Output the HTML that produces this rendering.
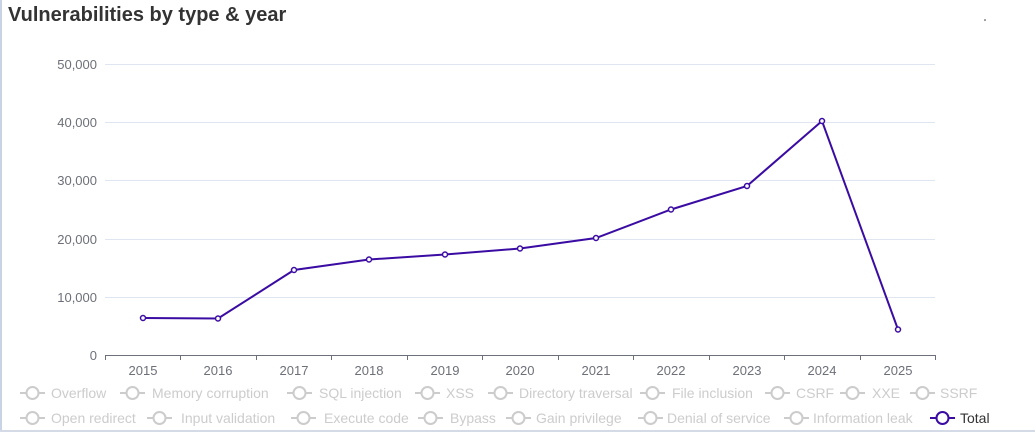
<!DOCTYPE html>
<html><head><meta charset="utf-8"><style>
body{margin:0;background:#fff;}
svg{display:block;font-family:"Liberation Sans",sans-serif;}
</style></head><body>
<svg width="1035" height="432" viewBox="0 0 1035 432">
<rect x="0" y="0" width="1035" height="432" fill="#fff"/>
<line x1="1" y1="0" x2="1" y2="432" stroke="#c9d3e6" stroke-width="2"/>
<line x1="0" y1="431" x2="1035" y2="431" stroke="#d5dbe6" stroke-width="2"/>
<text x="8" y="21" font-size="20" font-weight="bold" fill="#333">Vulnerabilities by type &amp; year</text>
<circle cx="985" cy="20" r="0.8" fill="#333"/>
<g stroke="#e0e6f1" stroke-width="1">
<line x1="105" y1="64.5" x2="935" y2="64.5"/>
<line x1="105" y1="122.5" x2="935" y2="122.5"/>
<line x1="105" y1="180.5" x2="935" y2="180.5"/>
<line x1="105" y1="239.5" x2="935" y2="239.5"/>
<line x1="105" y1="297.5" x2="935" y2="297.5"/>
</g>
<g font-size="13" fill="#6e7079" text-anchor="end">
<text x="97" y="69">50,000</text><text x="97" y="127">40,000</text><text x="97" y="185">30,000</text>
<text x="97" y="244">20,000</text><text x="97" y="302">10,000</text><text x="97" y="360">0</text>
</g>
<line x1="105" y1="355.5" x2="935" y2="355.5" stroke="#6e7079"/>
<g stroke="#6e7079">
<line x1="105.5" y1="355" x2="105.5" y2="360"/><line x1="180.5" y1="355" x2="180.5" y2="360"/>
<line x1="256.5" y1="355" x2="256.5" y2="360"/><line x1="331.5" y1="355" x2="331.5" y2="360"/>
<line x1="407.5" y1="355" x2="407.5" y2="360"/><line x1="482.5" y1="355" x2="482.5" y2="360"/>
<line x1="558.5" y1="355" x2="558.5" y2="360"/><line x1="633.5" y1="355" x2="633.5" y2="360"/>
<line x1="709.5" y1="355" x2="709.5" y2="360"/><line x1="784.5" y1="355" x2="784.5" y2="360"/>
<line x1="860.5" y1="355" x2="860.5" y2="360"/><line x1="935.5" y1="355" x2="935.5" y2="360"/>
</g>
<g font-size="13" fill="#6e7079" text-anchor="middle">
<text x="143" y="375">2015</text><text x="218" y="375">2016</text><text x="294" y="375">2017</text>
<text x="369" y="375">2018</text><text x="445" y="375">2019</text><text x="520" y="375">2020</text>
<text x="596" y="375">2021</text><text x="671" y="375">2022</text><text x="747" y="375">2023</text>
<text x="822" y="375">2024</text><text x="898" y="375">2025</text>
</g>
<polyline fill="none" stroke="#3a0ca3" stroke-width="2" points="143,318 218,318.5 294,270 369,259.5 445,254.5 520,248.5 596,238 671,209.5 747,186 822,121 898,329.5"/>
<g fill="#fff" stroke="#3a0ca3" stroke-width="1.5">
<circle cx="143" cy="318" r="2.5"/><circle cx="218" cy="318.5" r="2.5"/><circle cx="294" cy="270" r="2.5"/>
<circle cx="369" cy="259.5" r="2.5"/><circle cx="445" cy="254.5" r="2.5"/><circle cx="520" cy="248.5" r="2.5"/>
<circle cx="596" cy="238" r="2.5"/><circle cx="671" cy="209.5" r="2.5"/><circle cx="747" cy="186" r="2.5"/>
<circle cx="822" cy="121" r="2.5"/><circle cx="898" cy="329.5" r="2.5"/>
</g>
<defs>
<g id="ic"><line x1="0" y1="0" x2="25" y2="0" stroke-width="2"/><circle cx="12.5" cy="0" r="6" fill="#fff" stroke-width="2"/></g>
</defs>
<g stroke="#ccc">
<use href="#ic" x="20" y="393"/><use href="#ic" x="120" y="393"/><use href="#ic" x="287" y="393"/>
<use href="#ic" x="415" y="393"/><use href="#ic" x="488" y="393"/><use href="#ic" x="640" y="393"/>
<use href="#ic" x="765" y="393"/><use href="#ic" x="840" y="393"/><use href="#ic" x="910" y="393"/>
<use href="#ic" x="20" y="418"/><use href="#ic" x="147" y="418"/><use href="#ic" x="291" y="418"/>
<use href="#ic" x="418" y="418"/><use href="#ic" x="506" y="418"/><use href="#ic" x="638" y="418"/>
<use href="#ic" x="784" y="418"/>
</g>
<g stroke="#3a0ca3"><use href="#ic" x="930" y="418"/></g>
<g font-size="14" fill="#ccc">
<text x="51" y="398">Overflow</text><text x="152" y="398">Memory corruption</text><text x="319" y="398">SQL injection</text>
<text x="446" y="398">XSS</text><text x="519" y="398">Directory traversal</text><text x="672" y="398">File inclusion</text>
<text x="796" y="398">CSRF</text><text x="872" y="398">XXE</text><text x="940" y="398">SSRF</text>
<text x="51" y="423">Open redirect</text><text x="181" y="423">Input validation</text><text x="324" y="423">Execute code</text>
<text x="450" y="423">Bypass</text><text x="536" y="423">Gain privilege</text><text x="667" y="423">Denial of service</text>
<text x="813" y="423">Information leak</text>
</g>
<text x="960" y="423" font-size="14" fill="#333">Total</text>
</svg>
</body></html>
